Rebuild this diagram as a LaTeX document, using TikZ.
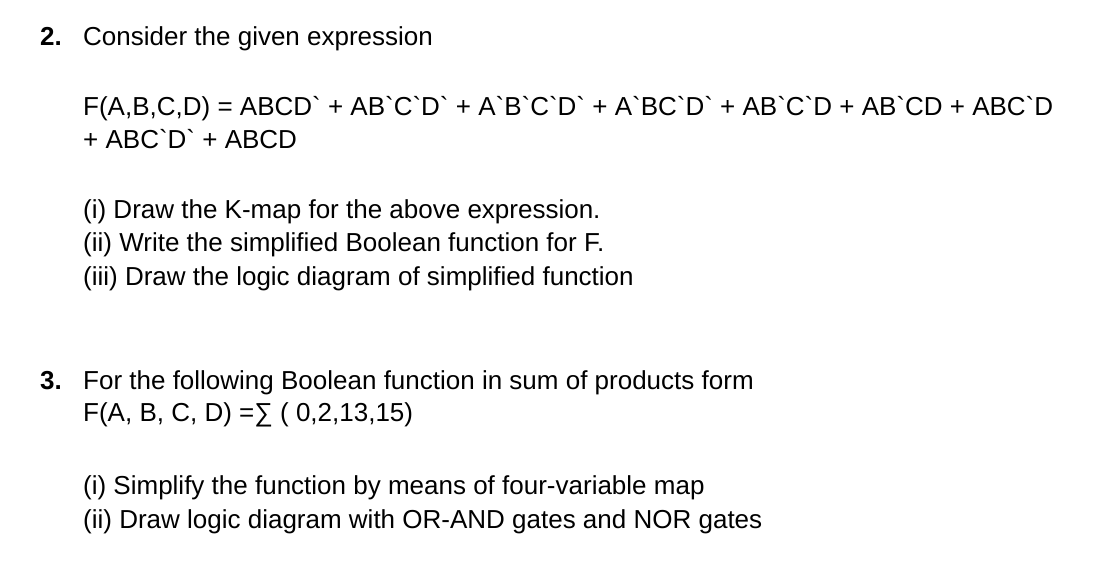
\documentclass[tikz,border=0pt]{standalone}
\usepackage{fontspec}
\newfontfamily\arial{Liberation Sans}
\newcommand{\bq}{\char96\relax}
\begin{document}
\begin{tikzpicture}[x=1pt,y=-1pt,every node/.style={anchor=base west,inner sep=0pt,font=\arial\fontsize{26}{30}\selectfont}]
\useasboundingbox (0,0) rectangle (1104,582);
\node (n2) at (40,45) {\textbf{2.}};
\node (t2) at (83,45) {Consider the given expression};
\node (e1) at (83,115) {F(A,B,C,D) = ABCD\bq{} + AB\bq C\bq D\bq{} + A\bq B\bq C\bq D\bq{} + A\bq BC\bq D\bq{} + AB\bq C\bq D + AB\bq CD + ABC\bq D};
\node (e2) at (83,148) {+ ABC\bq D\bq{} + ABCD};
\node (a1) at (83,218) {(i) Draw the K-map for the above expression.};
\node (a2) at (83,251) {(ii) Write the simplified Boolean function for F.};
\node (a3) at (83,285) {(iii) Draw the logic diagram of simplified function};
\node (n3) at (40,389) {\textbf{3.}};
\node (t3) at (83,389) {For the following Boolean function in sum of products form};
\node (f3) at (83,421) {F(A, B, C, D) =∑ ( 0,2,13,15)};
\node (b1) at (83,494) {(i) Simplify the function by means of four-variable map};
\node (b2) at (83,528) {(ii) Draw logic diagram with OR-AND gates and NOR gates};
\end{tikzpicture}
\end{document}
